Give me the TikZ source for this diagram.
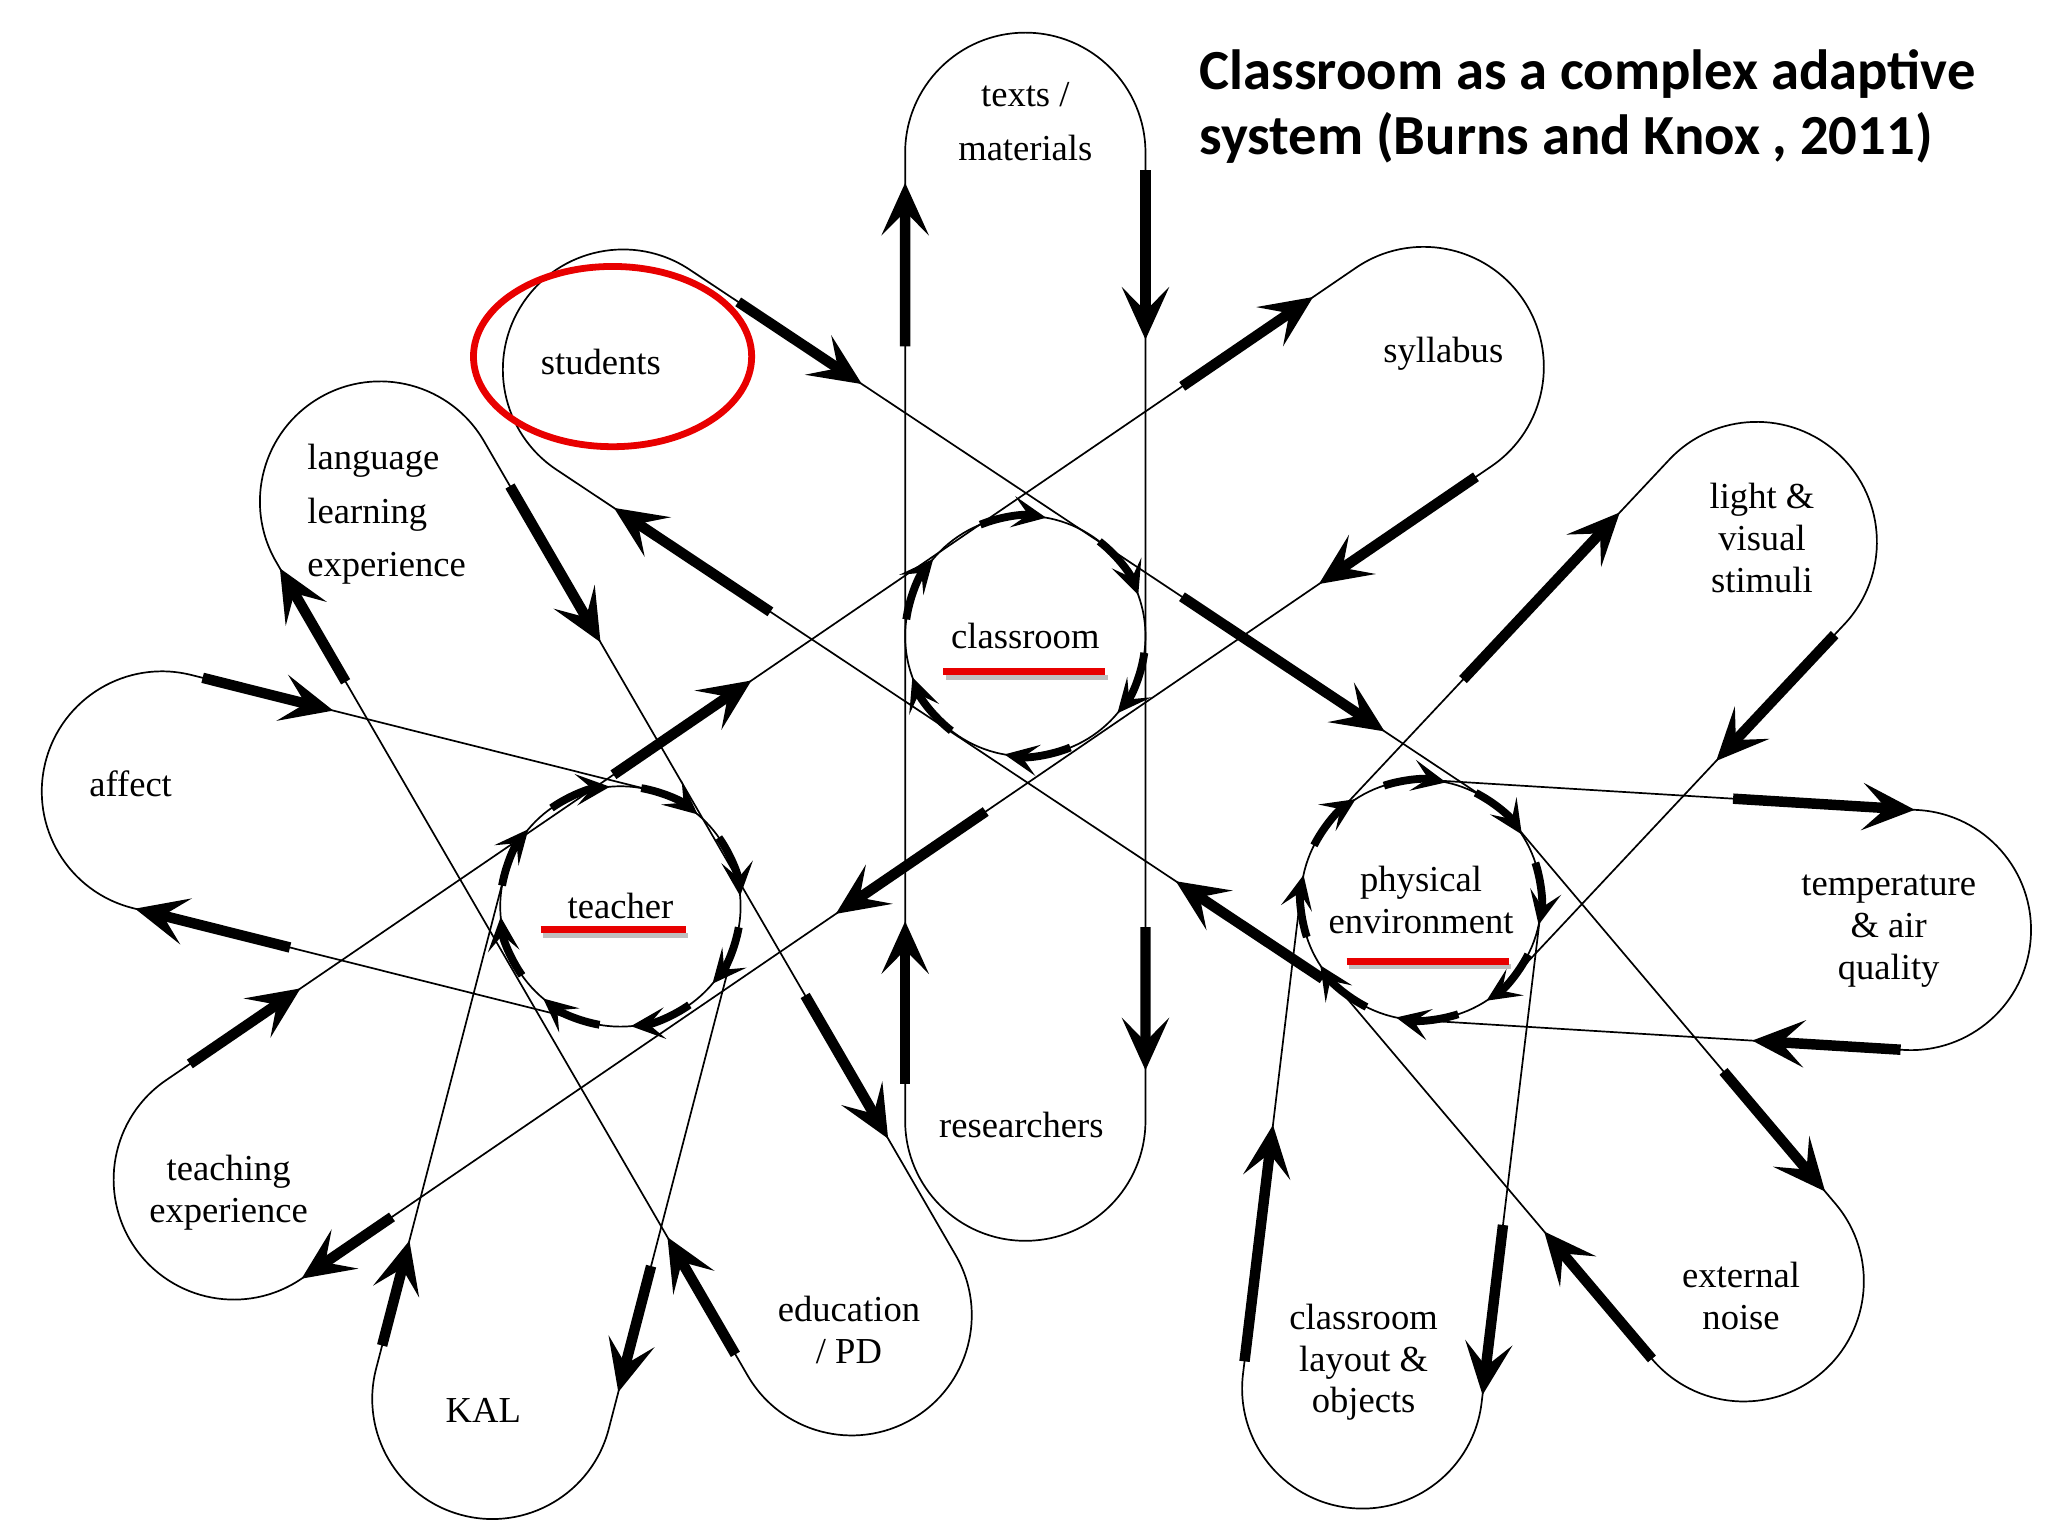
\documentclass[tikz,border=0pt]{standalone}
\usepackage{fontspec}
\setmainfont{Liberation Serif}
\newfontfamily\titlefont{Carlito}
\usetikzlibrary{arrows.meta,calc}
\definecolor{hlred}{RGB}{232,0,0}

% petal: round end at #1, open end on the hub #2
\newcommand{\petal}[2]{%
  \draw[loopline] let \p1=($(#2.center)-(#1.center)$), \n1={atan2(\y1,\x1)} in
    ($(#2.center)+(\n1+90:46pt)$) -- ($(#1.center)+(\n1+90:46pt)$)
    arc[start angle=\n1+90, delta angle=180, radius=46pt]
    -- ($(#2.center)+(\n1-90:46pt)$);
}
% pill: round at both ends
\newcommand{\pill}[2]{%
  \draw[loopline] let \p1=($(#2.center)-(#1.center)$), \n1={atan2(\y1,\x1)} in
    ($(#1.center)+(\n1+90:46pt)$) arc[start angle=\n1+90, delta angle=180, radius=46pt]
    -- ($(#2.center)+(\n1-90:46pt)$) arc[start angle=\n1-90, delta angle=180, radius=46pt]
    -- cycle;
}
% thick arrow on one side (#3) of the loop #1--#2, from fraction #4 to #5
\newcommand{\flow}[5]{%
  \draw[flowarr] let \p1=($(#2.center)-(#1.center)$), \n1={atan2(\y1,\x1)},
      \p2=($(#1.center)+(\n1#3:46pt)$), \p3=($(#2.center)+(\n1#3:46pt)$) in
    ($(\p2)!#4!(\p3)$) -- ($(\p2)!#5!(\p3)$);
}

\begin{document}
\begin{tikzpicture}[x=0.5pt, y=-0.5pt,
  every node/.style={font=\fontsize{14}{16}\selectfont},
  lbl/.style={align=center, inner sep=0pt},
  hub/.style={circle, draw, line width=0.65pt, minimum size=92pt, inner sep=0pt, align=center},
  loopline/.style={line width=0.65pt},
  flowarr/.style={line width=4pt, -{Stealth[length=20pt,width=18pt,inset=9pt]}},
  hubarr/.style={line width=3pt, -{Stealth[length=13pt,width=12pt,inset=6pt]}},
  uline/.style={hlred, line width=2.5pt},
  ushadow/.style={black!25, line width=2pt},
  redring/.style={hlred, line width=2.6pt},
  ttl/.style={anchor=base west, inner sep=0pt, font=\titlefont\fontsize{21.7}{24}\selectfont\bfseries}
]
\useasboundingbox (0,0) rectangle (1568,1176);

%% hubs
\node[hub] (classroom) at (785,487) {classroom};
\node[hub] (teacher) at (475,694) {teacher};
\node[hub] (physenv) at (1088,689) {physical\\environment};

%% loop ends
\coordinate (txt) at (785,117);
\coordinate (res) at (785,858);
\coordinate (stu) at (477,283);
\coordinate (syl) at (1090,281);
\coordinate (tex) at (179,903);
\coordinate (lle) at (291,384);
\coordinate (edu) at (652,1007);
\coordinate (aff) at (124,606);
\coordinate (kal) at (377,1071);
\coordinate (lig) at (1345,415);
\coordinate (tem) at (1463,712);
\coordinate (noi) at (1335,981);
\coordinate (lay) at (1043,1063);

%% labels
\node[lbl, font=\fontsize{14}{20.5}\selectfont] (txtlbl) at (785,93) {texts /\\materials};
\node[lbl] (stulbl) at (460,277) {students};
\node[lbl] (syllbl) at (1105,271) {syllabus};
\node[lbl, align=left, font=\fontsize{14}{20.5}\selectfont] (llelbl) at (296,394) {language\\learning\\experience};
\node[lbl] (afflbl) at (100,600) {affect};
\node[lbl] (texlbl) at (175,913) {teaching\\experience};
\node[lbl] (kallbl) at (370,1080) {KAL};
\node[lbl] (edulbl) at (650,1018) {education\\/ PD};
\node[lbl] (reslbl) at (782,861) {researchers};
\node[lbl] (liglbl) at (1349,412) {light \&\\visual\\stimuli};
\node[lbl] (temlbl) at (1446,713) {temperature\\\& air\\quality};
\node[lbl] (noilbl) at (1333,992) {external\\noise};
\node[lbl] (laylbl) at (1044,1043) {classroom\\layout \&\\objects};

%% loops
\pill{txt}{res}
\pill{syl}{tex}
\pill{lle}{edu}
\petal{stu}{physenv}
\petal{aff}{teacher}
\petal{kal}{teacher}
\petal{lig}{physenv}
\petal{tem}{physenv}
\petal{noi}{physenv}
\petal{lay}{physenv}

%% flows
\flow{txt}{res}{-90}{0.2}{0.031}
\flow{txt}{res}{+90}{0.018}{0.193}
\flow{txt}{res}{-90}{0.962}{0.794}
\flow{txt}{res}{+90}{0.8}{0.948}
\flow{stu}{physenv}{+90}{0.061}{0.216}
\flow{stu}{physenv}{+90}{0.617}{0.871}
\flow{stu}{physenv}{-90}{0.268}{0.072}
\flow{stu}{physenv}{-90}{0.96}{0.776}
\flow{syl}{tex}{-90}{0.146}{0.036}
\flow{syl}{tex}{-90}{0.624}{0.508}
\flow{syl}{tex}{-90}{0.98}{0.887}
\flow{syl}{tex}{+90}{0.013}{0.145}
\flow{syl}{tex}{+90}{0.425}{0.551}
\flow{syl}{tex}{+90}{0.924}{1.0}
\flow{lle}{edu}{+90}{0.055}{0.247}
\flow{lle}{edu}{+90}{0.681}{0.857}
\flow{lle}{edu}{-90}{0.1475}{0.008}
\flow{lle}{edu}{-90}{0.974}{0.83}
\flow{aff}{teacher}{+90}{0.025}{0.31}
\flow{aff}{teacher}{-90}{0.343}{0.005}
\flow{kal}{teacher}{+90}{0.047}{0.26}
\flow{kal}{teacher}{-90}{0.331}{0.075}
\flow{lig}{physenv}{-90}{0.614}{0.147}
\flow{lig}{physenv}{+90}{0.029}{0.382}
\flow{tem}{physenv}{-90}{0.378}{0.007}
\flow{tem}{physenv}{+90}{0.006}{0.309}
\flow{noi}{physenv}{-90}{0.347}{0.032}
\flow{noi}{physenv}{+90}{0.0}{0.334}
\flow{lay}{physenv}{+90}{0.026}{0.51}
\flow{lay}{physenv}{-90}{0.364}{0.016}

%% arrows round the hubs
\foreach \a in {80,20,-40,-100,-160,140}
  \draw[hubarr] ($(classroom.center)+(\a+32:46pt)$) arc[start angle=\a+32, delta angle=-32, radius=46pt];
\foreach \a in {95,50,5,-40,-85,-130,-175,140}
  \draw[hubarr] ($(teacher.center)+(\a+30:46pt)$) arc[start angle=\a+30, delta angle=-30, radius=46pt];
\foreach \a in {78,33,-12,-57,-102,-147,168,123}
  \draw[hubarr] ($(physenv.center)+(\a+30:46pt)$) arc[start angle=\a+30, delta angle=-30, radius=46pt];

%% highlights
\draw[ushadow] ($(classroom.center)+(-61,31.5)$) -- ($(classroom.center)+(63,31.5)$);
\draw[uline] ($(classroom.center)+(-63,27)$) -- ($(classroom.center)+(61,27)$);
\draw[ushadow] ($(teacher.center)+(-59,22)$) -- ($(teacher.center)+(52,22)$);
\draw[uline] ($(teacher.center)+(-61,17.5)$) -- ($(teacher.center)+(50,17.5)$);
\draw[ushadow] ($(physenv.center)+(-55,51)$) -- ($(physenv.center)+(69,51)$);
\draw[uline] ($(physenv.center)+(-57,47)$) -- ($(physenv.center)+(67,47)$);
\draw[redring] ($(stulbl.center)+(9,-4)$) ellipse [x radius=53.25pt, y radius=34.5pt];

%% title
\node[ttl] (title1) at (918,68.5) {Classroom as a complex adaptive};
\node[ttl] (title2) at (918,118) {system (Burns and Knox , 2011)};
\end{tikzpicture}
\end{document}
